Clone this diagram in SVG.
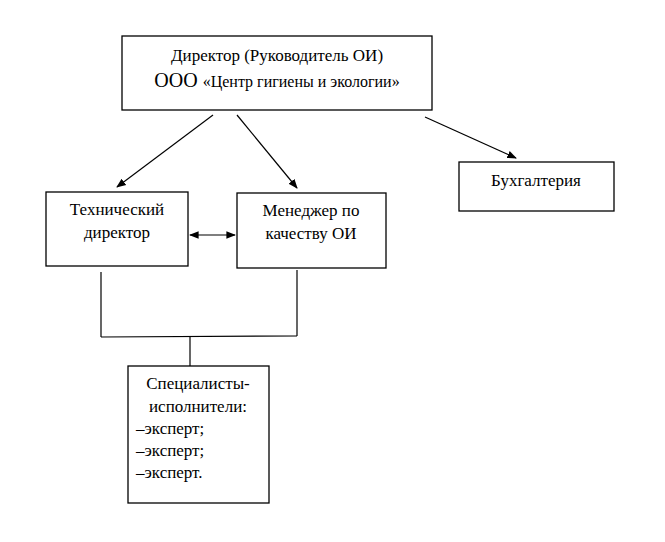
<svg xmlns="http://www.w3.org/2000/svg" width="665" height="542" viewBox="0 0 665 542">
<style>
rect{fill:#fff;stroke:#000;stroke-width:1.3}
text{font-family:"Liberation Serif",serif;font-size:17px;fill:#000}
.c line{stroke:#000;stroke-width:1.2}
</style>
<defs><marker id="a" viewBox="0 0 10 10" refX="9" refY="5" markerWidth="8" markerHeight="8" orient="auto-start-reverse"><path d="M0,1 L10,5 L0,9 z" fill="#000"/></marker></defs>
<rect width="665" height="542" style="stroke:none"/>
<g id="director"><rect x="122" y="36" width="310" height="74"/>
<text x="277" y="61" text-anchor="middle" font-size="20"><tspan>Директор (</tspan><tspan font-size="17">Руководитель ОИ)</tspan></text>
<text x="277" y="87" text-anchor="middle"><tspan font-size="20">ООО </tspan><tspan font-size="16">«Центр гигиены и экологии»</tspan></text></g>
<g id="tech"><rect x="46" y="192" width="142" height="74"/>
<text x="117" y="215" text-anchor="middle">Технический</text><text x="117" y="238" text-anchor="middle">директор</text></g>
<g id="manager"><rect x="237" y="193" width="149" height="75"/>
<text x="311" y="216" text-anchor="middle">Менеджер по</text><text x="311" y="239" text-anchor="middle">качеству ОИ</text></g>
<g id="buh"><rect x="459" y="162" width="155" height="49"/>
<text x="536" y="186" text-anchor="middle">Бухгалтерия</text></g>
<g id="spec"><rect x="128" y="366" width="141" height="137"/>
<text x="198" y="389" text-anchor="middle">Специалисты-</text><text x="198" y="412" text-anchor="middle">исполнители:</text>
<text x="136" y="434" font-size="15">–эксперт;</text><text x="136" y="456" font-size="15">–эксперт;</text><text x="136" y="478" font-size="15">–эксперт.</text></g>
<g class="c">
<line x1="213" y1="115" x2="117" y2="187" marker-end="url(#a)"/>
<line x1="237" y1="115" x2="297" y2="188" marker-end="url(#a)"/>
<line x1="425" y1="117" x2="516" y2="158" marker-end="url(#a)"/>
<line x1="190" y1="235" x2="235" y2="235" marker-start="url(#a)" marker-end="url(#a)"/>
<line x1="101" y1="272" x2="101" y2="337"/>
<line x1="297" y1="270" x2="297" y2="336"/>
<line x1="101" y1="337" x2="297" y2="336"/>
<line x1="190" y1="337" x2="190" y2="366"/>
</g>
</svg>
